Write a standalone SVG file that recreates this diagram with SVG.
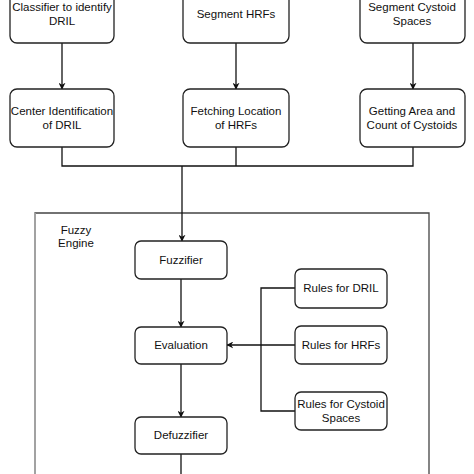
<svg xmlns="http://www.w3.org/2000/svg" width="474" height="474" viewBox="0 0 474 474">
<style>
.box{fill:#fff;stroke:#222;stroke-width:1.3}
.t{font-family:"Liberation Sans",Arial,sans-serif;font-size:11.5px;fill:#111;text-anchor:middle}
.c{fill:none;stroke:#111;stroke-width:1.3}
</style>
<defs>
<marker id="a" viewBox="0 0 10 10" refX="9" refY="5" markerWidth="7" markerHeight="7" markerUnits="userSpaceOnUse" orient="auto">
<path d="M0,0 L10,5 L0,10 L3,5 Z" fill="#111"/>
</marker>
</defs>
<rect width="474" height="474" fill="#fff"/>
<g id="container">
<path d="M35,474 L35,213 L429,213 L429,474" fill="none" stroke="#444" stroke-width="1.3"/>
<path d="M35,474 L35,213" fill="none" stroke="#aaa" stroke-width="1.6"/>
<text class="t" x="76" y="234">Fuzzy</text>
<text class="t" x="76" y="247">Engine</text>
</g>
<g id="connectors">
<path class="c" d="M62,43 L62,89" marker-end="url(#a)"/>
<path class="c" d="M236,43 L236,89" marker-end="url(#a)"/>
<path class="c" d="M413,43 L413,89" marker-end="url(#a)"/>
<path class="c" d="M62,147 L62,166 L413,166 L413,147"/>
<path class="c" d="M236,147 L236,166"/>
<path class="c" d="M182,166 L182,241" marker-end="url(#a)"/>
<path class="c" d="M181,279 L181,327" marker-end="url(#a)"/>
<path class="c" d="M181,364 L181,417" marker-end="url(#a)"/>
<path class="c" d="M181,454 L181,474"/>
<path class="c" d="M295,288 L261,288 L261,411 L295,411"/>
<path class="c" d="M295,345 L227,345" marker-end="url(#a)"/>
</g>
<g id="n1"><rect class="box" x="10" y="-20" width="104" height="63" rx="7"/><text class="t" x="62" y="11">Classifier to identify</text><text class="t" x="62" y="25">DRIL</text></g>
<g id="n2"><rect class="box" x="183" y="-20" width="106" height="63" rx="7"/><text class="t" x="236" y="18">Segment HRFs</text></g>
<g id="n3"><rect class="box" x="360" y="-20" width="105" height="63" rx="7"/><text class="t" x="412" y="11">Segment Cystoid</text><text class="t" x="412" y="25">Spaces</text></g>
<g id="n4"><rect class="box" x="10" y="89" width="104" height="58" rx="7"/><text class="t" x="62" y="115">Center Identification</text><text class="t" x="62" y="129">of DRIL</text></g>
<g id="n5"><rect class="box" x="183" y="89" width="106" height="58" rx="7"/><text class="t" x="236" y="115">Fetching Location</text><text class="t" x="236" y="129">of HRFs</text></g>
<g id="n6"><rect class="box" x="360" y="89" width="105" height="58" rx="7"/><text class="t" x="412" y="115">Getting Area and</text><text class="t" x="412" y="129">Count of Cystoids</text></g>
<g id="fuzzifier"><rect class="box" x="135" y="241" width="92" height="38" rx="6"/><text class="t" x="181" y="264">Fuzzifier</text></g>
<g id="evaluation"><rect class="box" x="135" y="327" width="92" height="37" rx="6"/><text class="t" x="181" y="349">Evaluation</text></g>
<g id="defuzzifier"><rect class="box" x="135" y="417" width="92" height="37" rx="6"/><text class="t" x="181" y="439">Defuzzifier</text></g>
<g id="r1"><rect class="box" x="295" y="269" width="92" height="39" rx="6"/><text class="t" x="341" y="292">Rules for DRIL</text></g>
<g id="r2"><rect class="box" x="295" y="326" width="92" height="38" rx="6"/><text class="t" x="341" y="349">Rules for HRFs</text></g>
<g id="r3"><rect class="box" x="295" y="392" width="92" height="38" rx="6"/><text class="t" x="341" y="408">Rules for Cystoid</text><text class="t" x="341" y="422">Spaces</text></g>
</svg>
